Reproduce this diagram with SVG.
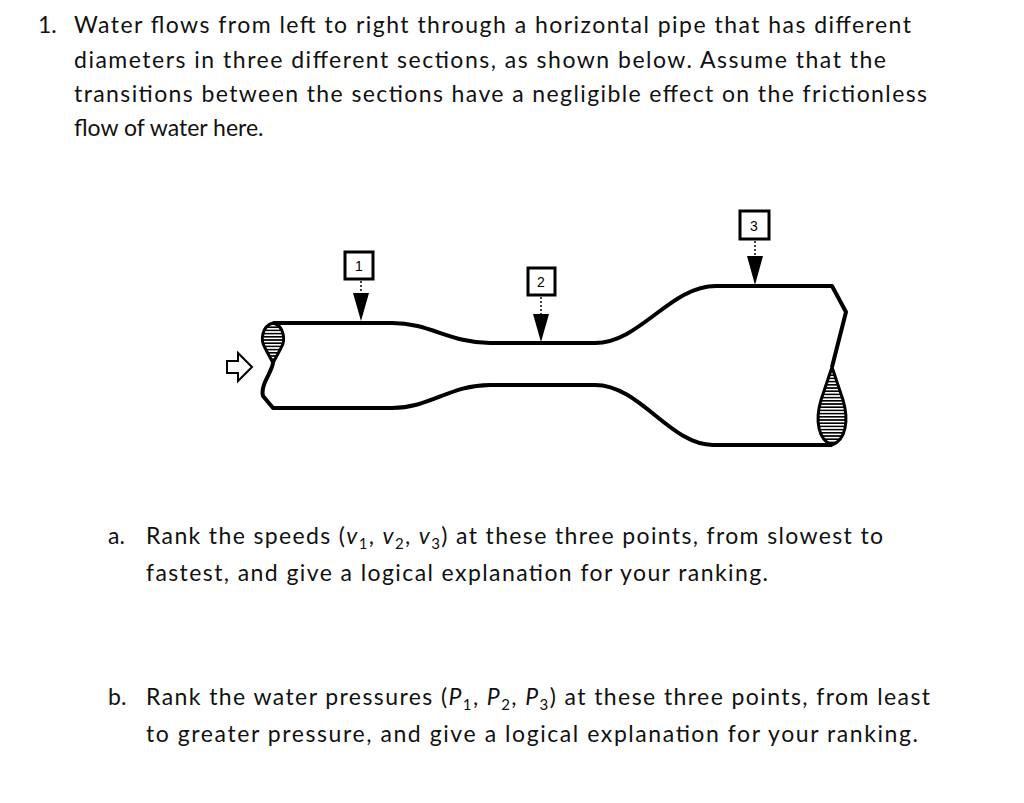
<svg xmlns="http://www.w3.org/2000/svg" width="1024" height="803" viewBox="0 0 1024 803">
<style>
.t{font-family:Lato,"Open Sans","Liberation Sans",sans-serif;font-size:23px;fill:#111}
.i{font-style:italic}
.pipe{fill:none;stroke:#000;stroke-width:4;stroke-linejoin:round}
.box{fill:#fff;stroke:#000;stroke-width:3}
.bl{font-family:"Liberation Sans",Arial,sans-serif;font-size:14px;fill:#000}
.dot{stroke:#000;stroke-width:1.5;stroke-dasharray:2 2}
.lobe{fill:url(#hatch);stroke:#000;stroke-width:3}
</style>
<defs>
<pattern id="hatch" width="4" height="3.2" patternUnits="userSpaceOnUse">
<rect width="4" height="3.2" fill="#fff"/>
<rect width="4" height="1.6" fill="#000"/>
</pattern>
</defs>
<rect width="1024" height="803" fill="#fff"/>
<g id="text">
<text class="t" x="38" y="33">1.</text>
<text class="t" x="74" y="33" textLength="837" lengthAdjust="spacing">Water flows from left to right through a horizontal pipe that has different</text>
<text class="t" x="74" y="68" textLength="812" lengthAdjust="spacing">diameters in three different sections, as shown below. Assume that the</text>
<text class="t" x="74" y="102" textLength="853" lengthAdjust="spacing">transitions between the sections have a negligible effect on the frictionless</text>
<text class="t" x="74" y="136">flow of water here.</text>
<text class="t" x="108" y="544">a.</text>
<text class="t" x="146" y="544" textLength="737" lengthAdjust="spacing">Rank the speeds (<tspan class="i">v</tspan><tspan font-size="15" dy="5">1</tspan><tspan dy="-5">, </tspan><tspan class="i">v</tspan><tspan font-size="15" dy="5">2</tspan><tspan dy="-5">, </tspan><tspan class="i">v</tspan><tspan font-size="15" dy="5">3</tspan><tspan dy="-5">) at these three points, from slowest to</tspan></text>
<text class="t" x="146" y="581" textLength="622" lengthAdjust="spacing">fastest, and give a logical explanation for your ranking.</text>
<text class="t" x="108" y="705">b.</text>
<text class="t" x="146" y="705" textLength="784" lengthAdjust="spacing">Rank the water pressures (<tspan class="i">P</tspan><tspan font-size="15" dy="5">1</tspan><tspan dy="-5">, </tspan><tspan class="i">P</tspan><tspan font-size="15" dy="5">2</tspan><tspan dy="-5">, </tspan><tspan class="i">P</tspan><tspan font-size="15" dy="5">3</tspan><tspan dy="-5">) at these three points, from least</tspan></text>
<text class="t" x="146" y="742" textLength="772" lengthAdjust="spacing">to greater pressure, and give a logical explanation for your ranking.</text>
</g>
<g id="pipe">
<path class="pipe" d="M273,323 H392 C430,323 450,343 490,343 H595 C640,343 670,286 716,286 H832 L846,312 L832,367 M832,445 H713 C670,445 640,385 595,385 H490 C450,385 430,408 392,408 H273 L263,396 C260,385 272,372 273,363"/>
<path class="lobe" d="M273,323 C262,326 260,340 265,348 L273,363 L281,348 C286,340 284,326 273,323 Z"/>
<path class="lobe" d="M832,367 L821,400 C815,420 818,440 832,445 C846,440 849,420 843,400 Z"/>
<path d="M227,361 H238 V353 L252,367 L238,381 V373 H227 Z" fill="#fff" stroke="#000" stroke-width="2"/>
</g>
<g id="label1">
<rect class="box" x="345" y="252" width="28" height="27"/>
<text class="bl" x="359" y="271" text-anchor="middle">1</text>
<line class="dot" x1="361" y1="281" x2="361" y2="293"/>
<path d="M353,293 H369 L361,321 Z"/>
</g>
<g id="label2">
<rect class="box" x="528" y="268" width="27" height="27"/>
<text class="bl" x="541" y="287" text-anchor="middle">2</text>
<line class="dot" x1="541" y1="297" x2="541" y2="314"/>
<path d="M533,314 H549 L541,342 Z"/>
</g>
<g id="label3">
<rect class="box" x="740" y="211" width="29" height="28"/>
<text class="bl" x="754" y="231" text-anchor="middle">3</text>
<line class="dot" x1="755" y1="241" x2="755" y2="256"/>
<path d="M747,256 H763 L755,285 Z"/>
</g>
</svg>
